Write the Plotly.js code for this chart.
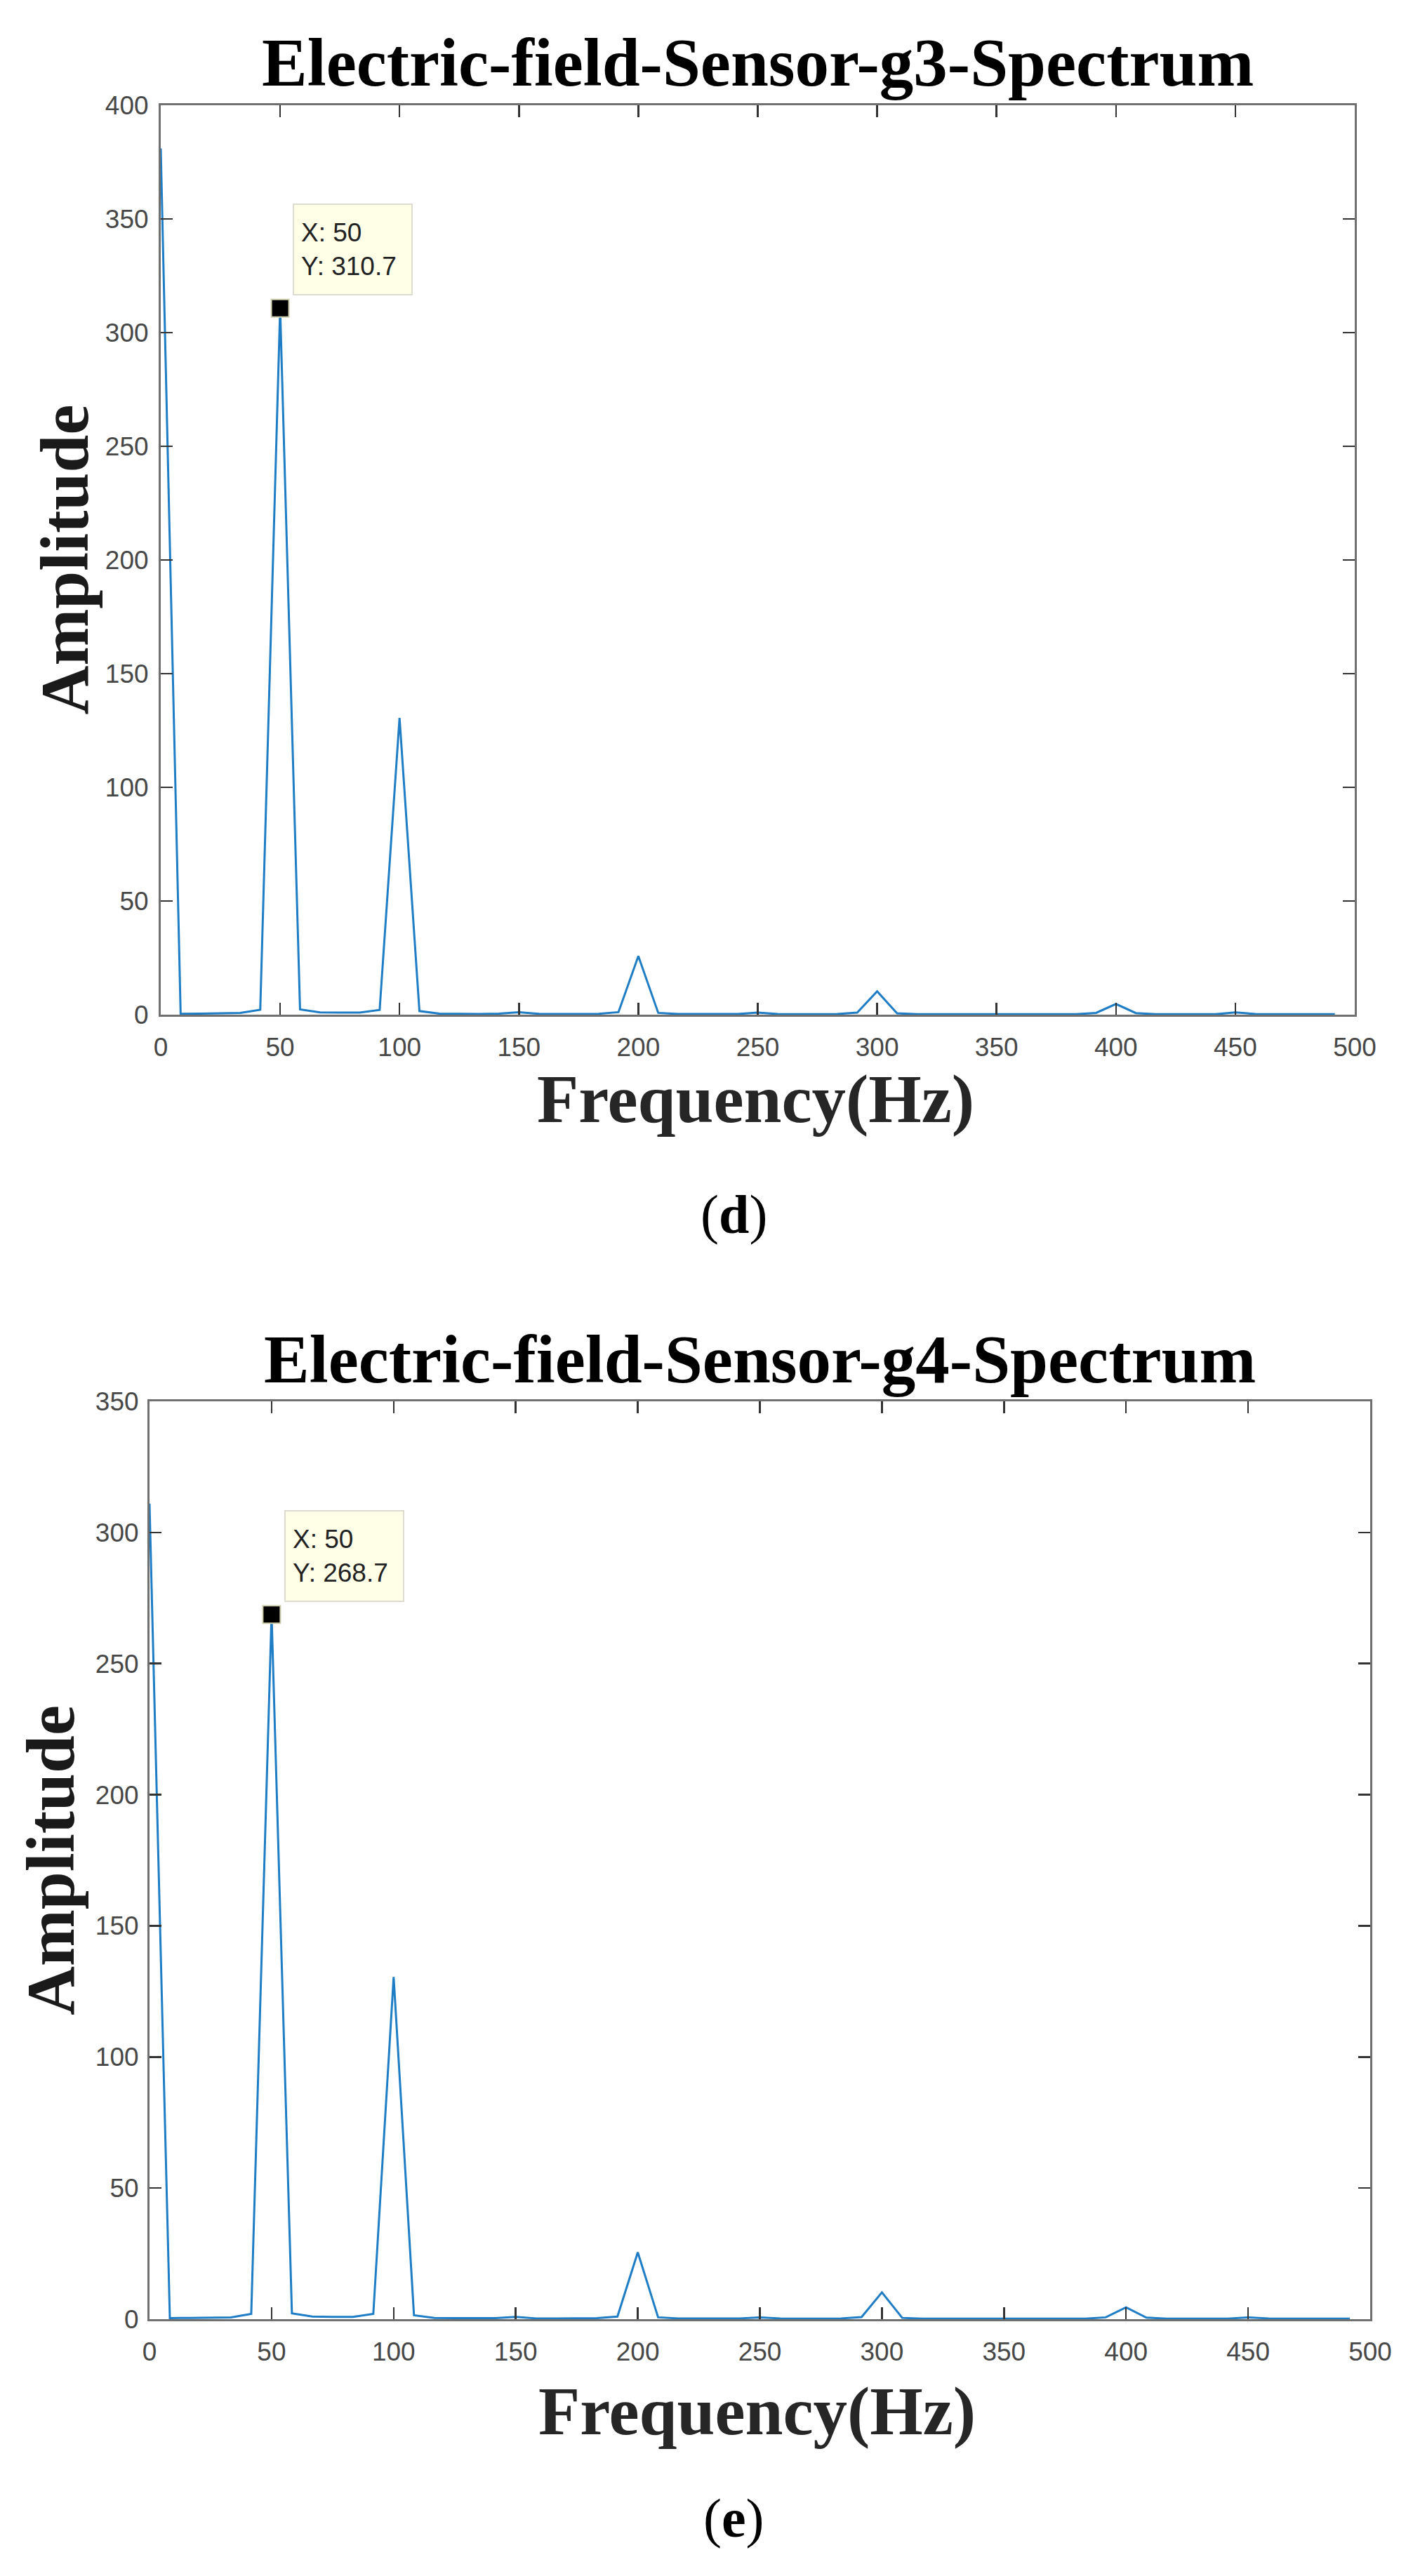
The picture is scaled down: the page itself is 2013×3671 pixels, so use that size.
<!DOCTYPE html>
<html>
<head>
<meta charset="utf-8">
<script src="https://cdn.plot.ly/plotly-3.0.1.min.js"></script>
<style>
  html, body { margin: 0; padding: 0; background: #ffffff; }
  #chart { width: 2013px; height: 3671px; }
</style>
</head>
<body>
<div id="chart"></div>
<script>
// ---- data ----
const freqHz = [0, 8.33, 16.67, 25, 33.33, 41.67, 50, 58.33, 66.67, 75, 83.33, 91.67,
  100, 108.33, 116.67, 125, 133.33, 141.67, 150, 158.33, 166.67, 175, 183.33, 191.67,
  200, 208.33, 216.67, 225, 233.33, 241.67, 250, 258.33, 266.67, 275, 283.33, 291.67,
  300, 308.33, 316.67, 325, 333.33, 341.67, 350, 358.33, 366.67, 375, 383.33, 391.67,
  400, 408.33, 416.67, 425, 433.33, 441.67, 450, 458.33, 466.67, 475, 483.33, 491.67];

const g3Amplitude = [381, 0.4, 0.5, 0.7, 0.8, 2.2, 310.7, 2.3, 1.0, 0.9, 0.9, 2.1,
  130.5, 1.6, 0.5, 0.4, 0.3, 0.5, 1.1, 0.4, 0.3, 0.3, 0.4, 1.1,
  25.8, 0.8, 0.3, 0.3, 0.3, 0.3, 0.9, 0.3, 0.2, 0.2, 0.3, 0.9,
  10.3, 0.6, 0.2, 0.2, 0.2, 0.2, 0.3, 0.2, 0.2, 0.2, 0.2, 0.8,
  4.7, 0.7, 0.2, 0.2, 0.2, 0.2, 1.0, 0.3, 0.2, 0.2, 0.2, 0.2];

const g4Amplitude = [311, 0.4, 0.5, 0.6, 0.7, 2.0, 268.7, 2.2, 1.0, 0.9, 0.9, 2.0,
  130.5, 1.5, 0.5, 0.4, 0.3, 0.4, 0.9, 0.3, 0.3, 0.3, 0.4, 1.0,
  25.5, 0.7, 0.3, 0.3, 0.3, 0.3, 0.7, 0.3, 0.2, 0.2, 0.3, 0.8,
  10.2, 0.5, 0.2, 0.2, 0.2, 0.2, 0.3, 0.2, 0.2, 0.2, 0.2, 0.7,
  4.5, 0.6, 0.2, 0.2, 0.2, 0.2, 0.7, 0.3, 0.2, 0.2, 0.2, 0.2];

const tipX = [50];
const tipY3 = [310.7];
const tipY4 = [268.7];

const xTicks = [0, 50, 100, 150, 200, 250, 300, 350, 400, 450, 500];
const yTicks3 = [0, 50, 100, 150, 200, 250, 300, 350, 400];
const yTicks4 = [0, 50, 100, 150, 200, 250, 300, 350];

const titles = ['Electric-field-Sensor-g3-Spectrum', 'Electric-field-Sensor-g4-Spectrum'];
const xTitle = 'Frequency(Hz)';
const yTitle = 'Amplitude';
const panelLabels = ['d', 'e'];

// ---- page geometry (pixels) ----
const W = 2013, H = 3671;
const px = v => v / W;
const py = v => 1 - v / H;

const lineColor = '#1f7dc6';
const tickFont = { family: 'Liberation Sans, Arial, sans-serif', size: 37, color: '#474747' };
const serif = 'Liberation Serif, Times New Roman, serif';

function axisBase(extra) {
  return Object.assign({
    ticks: 'inside', ticklen: 17, tickwidth: 2.5, tickcolor: '#333333',
    showline: true, linecolor: '#707070', linewidth: 3, mirror: 'ticks',
    showgrid: false, zeroline: false, tickfont: tickFont, fixedrange: true,
    tickmode: 'array'
  }, extra);
}

const traces = [
  { x: freqHz, y: g3Amplitude, xaxis: 'x', yaxis: 'y', type: 'scatter', mode: 'lines',
    line: { color: lineColor, width: 3 }, hoverinfo: 'skip' },
  { x: tipX, y: tipY3, xaxis: 'x', yaxis: 'y', type: 'scatter', mode: 'markers',
    marker: { symbol: 'square', size: 25, color: '#000000', line: { color: '#cfcfb0', width: 2 } },
    cliponaxis: false, hoverinfo: 'skip' },
  { x: freqHz, y: g4Amplitude, xaxis: 'x2', yaxis: 'y2', type: 'scatter', mode: 'lines',
    line: { color: lineColor, width: 3 }, hoverinfo: 'skip' },
  { x: tipX, y: tipY4, xaxis: 'x2', yaxis: 'y2', type: 'scatter', mode: 'markers',
    marker: { symbol: 'square', size: 25, color: '#000000', line: { color: '#cfcfb0', width: 2 } },
    cliponaxis: false, hoverinfo: 'skip' }
];

function textAnn(text, x, y, size, color, extra) {
  return Object.assign({
    text: text, xref: 'paper', yref: 'paper', x: px(x), y: py(y),
    xanchor: 'center', yanchor: 'middle', showarrow: false,
    font: { family: serif, size: size, color: color }
  }, extra || {});
}

function tipAnn(xr, yr, xv, yv) {
  return {
    text: 'X: ' + xv + '<br>Y: ' + yv, xref: xr, yref: yr, x: xv, y: yv,
    xanchor: 'left', yanchor: 'bottom', xshift: 18, yshift: 18,
    align: 'left', valign: 'middle', showarrow: false,
    bgcolor: '#ffffe8', bordercolor: '#dcdcd0', borderwidth: 2, borderpad: 10,
    width: 147, height: 107,
    font: { family: 'Liberation Sans, Arial, sans-serif', size: 37, color: '#222222' }
  };
}

const annotations = [
  textAnn('<b>' + titles[0] + '</b>', 1079, 90, 97, '#000000'),
  textAnn('<b>' + yTitle + '</b>', 91.5, 798, 97, '#1a1a1a', { textangle: -90 }),
  textAnn('<b>' + xTitle + '</b>', 1076, 1567, 97, '#262626'),
  textAnn('(<b>' + panelLabels[0] + '</b>)', 1045, 1730, 78, '#000000'),
  textAnn('<b>' + titles[1] + '</b>', 1082, 1937, 97, '#000000'),
  textAnn('<b>' + yTitle + '</b>', 72, 2651, 97, '#1a1a1a', { textangle: -90 }),
  textAnn('<b>' + xTitle + '</b>', 1078, 3436, 97, '#262626'),
  textAnn('(<b>' + panelLabels[1] + '</b>)', 1045, 3588, 78, '#000000'),
  tipAnn('x', 'y', tipX[0], tipY3[0]),
  tipAnn('x2', 'y2', tipX[0], tipY4[0])
];

const layout = {
  width: W, height: H,
  margin: { l: 0, r: 0, t: 0, b: 0, pad: 0 },
  paper_bgcolor: '#ffffff', plot_bgcolor: '#ffffff',
  showlegend: false,
  xaxis: axisBase({ domain: [px(229), px(1930)], range: [0, 500], tickvals: xTicks, anchor: 'y', ticklabelstandoff: 12 }),
  yaxis: axisBase({ domain: [py(1446), py(150)], range: [0, 400], tickvals: yTicks3, anchor: 'x', ticklabelstandoff: 7 }),
  xaxis2: axisBase({ domain: [px(213), px(1952)], range: [0, 500], tickvals: xTicks, anchor: 'y2', ticklabelstandoff: 12 }),
  yaxis2: axisBase({ domain: [py(3305), py(1997)], range: [0, 350], tickvals: yTicks4, anchor: 'x2', ticklabelstandoff: 5 }),
  annotations: annotations
};

Plotly.newPlot('chart', traces, layout, { staticPlot: true, displayModeBar: false });
</script>
</body>
</html>
